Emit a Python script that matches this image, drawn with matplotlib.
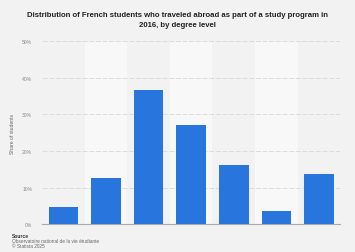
import matplotlib.pyplot as plt
import numpy as np

plt.rcParams['font.family'] = ['Liberation Sans', 'DejaVu Sans']

categories = ['Level 1', 'Level 2', 'Level 3', 'Level 4', 'Level 5', 'Level 6', 'Level 7']
shares = [4.7, 12.5, 36.6, 27.0, 16.1, 3.6, 13.7]
yticks = [0, 10, 20, 30, 40, 50]
ytick_labels = ['0%', '10%', '20%', '30%', '40%', '50%']

title = ('Distribution of French students who traveled abroad as part of a study program in\n'
         '2016, by degree level')

fig = plt.figure(figsize=(3.55, 2.53), dpi=100, facecolor='#f2f2f2')
ax = fig.add_axes([0.118, 0.1095, 0.841, 0.7245])
ax.set_facecolor('#f2f2f2')

x = np.arange(len(categories))
# alternating column bands
for i in x:
    if i % 2 == 1:
        ax.axvspan(i - 0.5, i + 0.5, color='#f8f8f8', zorder=0, lw=0)

ax.bar(x, shares, width=0.69, color='#2876dd', zorder=3)

ax.set_xlim(-0.5, len(categories) - 0.5)
ax.set_ylim(0, 50)
ax.set_yticks(yticks)
ax.set_yticklabels(ytick_labels, fontsize=3.6, color='#888888')
ax.set_xticks([])
ax.tick_params(axis='y', length=0, pad=7)
ax.yaxis.grid(True, color='#d8d8d8', linestyle=(0, (6, 2)), linewidth=0.6, zorder=1)
for s in ['top', 'right', 'left']:
    ax.spines[s].set_visible(False)
ax.spines['bottom'].set_color('#aaaaaa')
ax.spines['bottom'].set_linewidth(0.8)
ax.set_ylabel('Share of students', fontsize=3.6, color='#666666', labelpad=5)

fig.text(0.5, 0.92, title, ha='center', va='center', fontsize=5.6,
         fontweight='bold', color='#222222', linespacing=1.6)

fig.text(0.034, 0.067, 'Source', fontsize=3.6, fontweight='bold', color='#333333', va='center')
fig.text(0.034, 0.047, 'Observatoire national de la vie étudiante', fontsize=3.4, color='#666666', va='center')
fig.text(0.034, 0.025, '© Statista 2025', fontsize=3.4, color='#666666', va='center')

fig.savefig('out.png', dpi=100, facecolor=fig.get_facecolor())
